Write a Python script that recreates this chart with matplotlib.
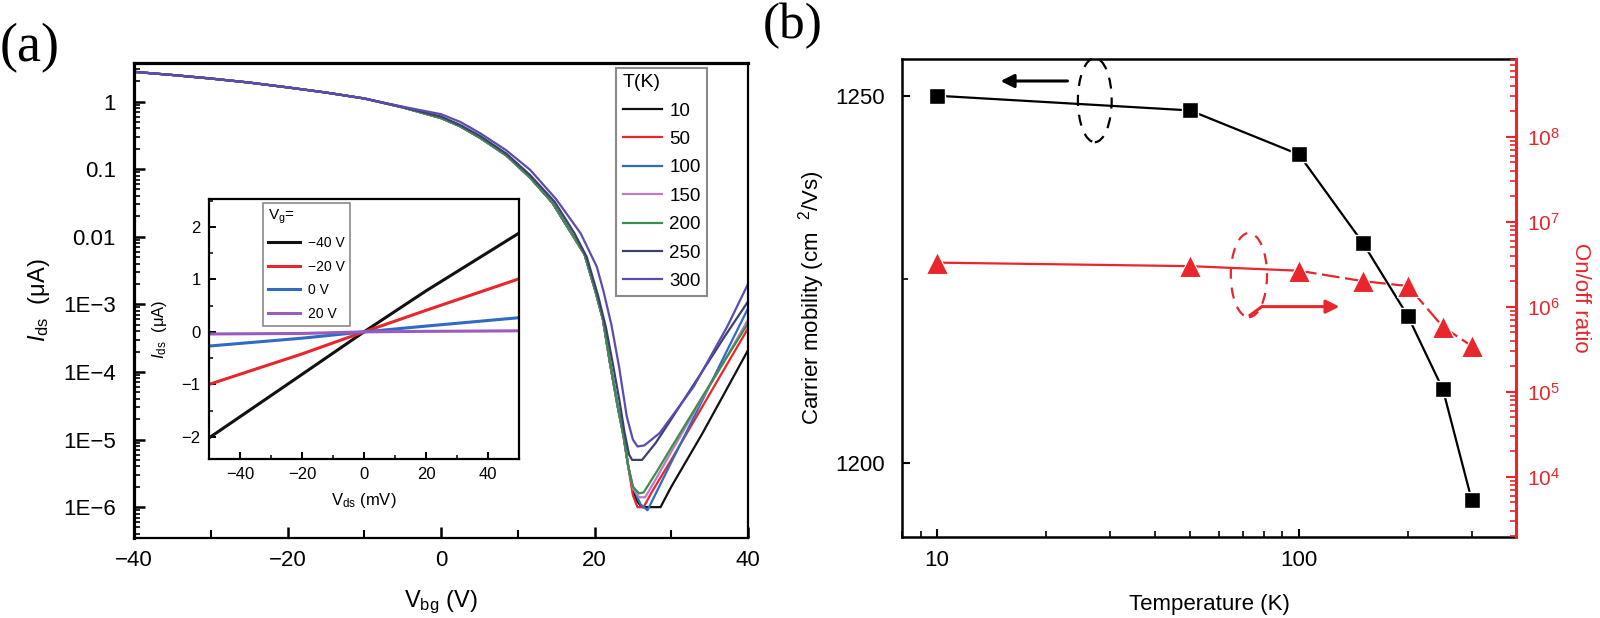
import numpy as np
import matplotlib
matplotlib.use("Agg")
import matplotlib.pyplot as plt
from matplotlib.patches import Ellipse
from matplotlib.ticker import LogLocator, MultipleLocator, NullFormatter, FixedLocator

plt.rcParams['font.family'] = ['Liberation Sans', 'DejaVu Sans']
plt.rcParams['mathtext.fontset'] = 'custom'
plt.rcParams['mathtext.rm'] = 'Liberation Sans'
plt.rcParams['mathtext.it'] = 'Liberation Sans:italic'
plt.rcParams['mathtext.bf'] = 'Liberation Sans:bold'

# ---- (a) transfer curves, Ids (uA) vs Vbg (V) ----
temps = ['10', '50', '100', '150', '200', '250', '300']
t_colors = ['#111111', '#e8262b', '#2f6bc2', '#c07ac4', '#3c8f4a', '#3c4070', '#5a4cb0']

# branch shared by all temperatures
vbg_left = [-40, -35, -30, -25, -20, -15, -10]
ids_left = [2.75, 2.47, 2.19, 1.91, 1.62, 1.36, 1.11]

# falling branch shared by 10-200 K
vbg_mid = [-5, 0, 2.5, 5.1, 8.5, 11.6, 14.5, 17.0, 18.7, 20.1, 21.1, 22.0, 23.0, 23.8, 24.4]
ids_mid = [0.82, 0.57, 0.43, 0.29, 0.16, 0.075, 0.032, 0.0112, 0.0055, 1.6e-3, 6e-4, 1.4e-4,
           3.2e-5, 1.1e-5, 4e-6]

vbg_10 = [25.0, 25.6, 26.2, 28.6, 30, 34, 37, 40]
ids_10 = [1.8e-6, 1.2e-6, 1.0e-6, 1.0e-6, 2e-6, 1.2e-5, 5e-5, 2.1e-4]
vbg_50 = [25.0, 25.6, 26.4, 27.5, 30, 34, 37, 40]
ids_50 = [1.5e-6, 1.0e-6, 1.0e-6, 1.7e-6, 5e-6, 3e-5, 1.15e-4, 4.4e-4]
vbg_100 = [25.0, 26.0, 26.9, 28, 30, 34, 37, 40]
ids_100 = [2.0e-6, 1.1e-6, 9e-7, 1.6e-6, 4.6e-6, 3.7e-5, 1.8e-4, 8.7e-4]
vbg_150 = [25.0, 25.8, 26.6, 28, 30, 34, 37, 40]
ids_150 = [1.9e-6, 1.4e-6, 1.4e-6, 2.6e-6, 6.6e-6, 4e-5, 1.5e-4, 5.9e-4]
vbg_200 = [25.0, 25.8, 26.4, 28, 30, 34, 37, 40]
ids_200 = [2.0e-6, 1.6e-6, 1.65e-6, 3.2e-6, 7.6e-6, 4.2e-5, 1.5e-4, 5.2e-4]

vbg_250 = [-5, 0, 2.5, 5.1, 8.5, 11.6, 14.8, 17.4, 19.0, 20.5, 21.5, 22.4, 23.3, 23.9, 24.5,
           24.9, 26.2, 28, 30, 34, 37, 40]
ids_250 = [0.83, 0.60, 0.45, 0.31, 0.17, 0.082, 0.033, 0.0112, 5e-3, 1.3e-3, 4.5e-4, 1.3e-4,
           3.5e-5, 1.3e-5, 6e-6, 5e-6, 5e-6, 9e-6, 2.0e-5, 1.0e-4, 3.4e-4, 1.1e-3]
vbg_300 = [-5, 0, 2.5, 5.1, 8.5, 11.6, 15.0, 18.2, 20.3, 21.15, 22.2, 23.2, 24.2, 25.0, 25.6,
           26.5, 28.5, 32.9, 37.3, 40]
ids_300 = [0.84, 0.65, 0.50, 0.34, 0.19, 0.098, 0.036, 0.0112, 3.6e-3, 1.6e-3, 5e-4, 1.2e-4,
           2.2e-5, 1.0e-5, 7.9e-6, 8.2e-6, 1.25e-5, 6e-5, 4.7e-4, 2.0e-3]

ytick_vals = [1e-6, 1e-5, 1e-4, 1e-3, 0.01, 0.1, 1]
ytick_text = ['1E\u22126', '1E\u22125', '1E\u22124', '1E\u22123', '0.01', '0.1', '1']

# ---- inset: output curves ----
vds = [-50, -20, 0, 20, 50]
vg_labels = ['\u221240 V', '\u221220 V', '0 V', '20 V']
vg_colors = ['#111111', '#e8262b', '#2f6bc2', '#9b5cc0']
ids_m40 = [-2.02, -0.81, 0.0, 0.78, 1.88]
ids_m20 = [-1.0, -0.42, 0.0, 0.41, 1.01]
ids_0 = [-0.27, -0.12, 0.0, 0.11, 0.27]
ids_p20 = [-0.04, -0.03, 0.0, 0.01, 0.02]

# ---- (b) mobility and on/off ratio ----
temp_k = [10, 50, 100, 150, 200, 250, 300]
mobility = [1250.0, 1248.0, 1242.0, 1230.0, 1220.0, 1210.0, 1195.0]
onoff = [3.3e6, 3.0e6, 2.65e6, 2.0e6, 1.75e6, 5.8e5, 3.45e5]

red = '#e8262b'

fig = plt.figure(figsize=(16, 6.18), dpi=100)

# ================= panel (a) =================
axa = fig.add_axes([0.08375, 0.1295, 0.38375, 0.7686])
curves = [
    (vbg_left + vbg_mid + vbg_10, ids_left + ids_mid + ids_10),
    (vbg_left + vbg_mid + vbg_50, ids_left + ids_mid + ids_50),
    (vbg_left + vbg_mid + vbg_100, ids_left + ids_mid + ids_100),
    (vbg_left + vbg_mid + vbg_150, ids_left + ids_mid + ids_150),
    (vbg_left + vbg_mid + vbg_200, ids_left + ids_mid + ids_200),
    (vbg_left + vbg_250, ids_left + ids_250),
    (vbg_left + vbg_300, ids_left + ids_300),
]
handles = []
for (v, i), lab, c in zip(curves, temps, t_colors):
    ln, = axa.plot(v, i, color=c, lw=1.6, label=lab)
    handles.append(ln)

axa.set_yscale('log')
axa.set_xlim(-40, 40)
axa.set_ylim(3.5e-7, 3.72)
axa.set_yticks(ytick_vals)
axa.set_yticklabels(ytick_text)
axa.yaxis.set_minor_locator(LogLocator(base=10, subs=np.arange(2, 10), numticks=20))
axa.yaxis.set_minor_formatter(NullFormatter())
axa.set_xticks([-40, -20, 0, 20, 40])
axa.xaxis.set_minor_locator(MultipleLocator(10))
axa.tick_params(which='both', direction='in', top=False, right=False, labelsize=16)
axa.tick_params(axis='y', which='major', length=8, width=1.8, pad=13)
axa.tick_params(axis='y', which='minor', length=4, width=1.2)
axa.tick_params(axis='x', which='major', length=8, width=1.8, pad=9)
axa.tick_params(axis='x', which='minor', length=6, width=1.5)
for s in ['left', 'top']:
    axa.spines[s].set_linewidth(2.3)
for s in ['bottom', 'right']:
    axa.spines[s].set_linewidth(1.6)
axa.set_xlabel(r'V$_{\rm bg}$ (V)', fontsize=17, labelpad=12)
axa.set_ylabel(r'$\mathit{I}_{\rm ds}$  (μA)', fontsize=17, labelpad=8)

leg = axa.legend(handles=handles, title='T(K)', loc='upper left', bbox_to_anchor=(0.785, 0.99),
                 borderaxespad=0, fontsize=13.5, title_fontsize=14, handlelength=2.1,
                 labelspacing=0.6, handletextpad=0.4, borderpad=0.35, fancybox=False,
                 framealpha=1, edgecolor='#8a8a8a', alignment='left')
leg.get_frame().set_linewidth(1.5)

# ================= inset =================
axi = fig.add_axes([0.1306, 0.2573, 0.19375, 0.4207])
for y, lab, c in zip([ids_m40, ids_m20, ids_0, ids_p20], vg_labels, vg_colors):
    axi.plot(vds, y, color=c, lw=2.2, label=lab)
axi.set_xlim(-50, 50)
axi.set_ylim(-2.42, 2.53)
axi.set_xticks([-40, -20, 0, 20, 40])
axi.set_yticks([-2, -1, 0, 1, 2])
axi.xaxis.set_minor_locator(MultipleLocator(10))
axi.yaxis.set_minor_locator(MultipleLocator(0.5))
axi.tick_params(which='both', direction='in', top=False, right=False, labelsize=12)
axi.tick_params(which='major', length=5, width=1.4)
axi.tick_params(which='minor', length=3, width=1.1)
axi.tick_params(axis='y', pad=6)
axi.tick_params(axis='x', pad=6)
for s in axi.spines.values():
    s.set_linewidth(1.6)
axi.set_xlabel(r'V$_{\rm ds}$ (mV)', fontsize=12, labelpad=6)
axi.set_ylabel(r'$\mathit{I}_{\rm ds}$  (μA)', fontsize=12, labelpad=9)
legi = axi.legend(title=r'V$_{\rm g}$=', loc='upper left', bbox_to_anchor=(0.174, 0.985),
                  borderaxespad=0, fontsize=10, title_fontsize=11, handlelength=2.3,
                  labelspacing=0.7, handletextpad=0.6, borderpad=0.35, fancybox=False,
                  framealpha=1, edgecolor='#8a8a8a', alignment='left')
legi.get_frame().set_linewidth(1.2)

# ================= panel (b) =================
axb = fig.add_axes([0.56375, 0.131, 0.38375, 0.7735])
axb.plot(temp_k, mobility, color='k', lw=1.6, marker='s', ms=12, mfc='k', mec='white', mew=1.0)
axb.set_xscale('log')
axb.set_xlim(8.0, 398)
axb.set_ylim(1189.9, 1255.0)
axb.set_yticks([1200, 1250])
axb.yaxis.set_minor_locator(FixedLocator([1225]))
axb.xaxis.set_minor_locator(LogLocator(base=10, subs=np.arange(2, 10), numticks=20))
axb.xaxis.set_minor_formatter(NullFormatter())
axb.set_xticks([10, 100])
axb.set_xticklabels(['10', '100'])
axb.tick_params(which='both', direction='in', top=False, right=False, labelsize=16)
axb.tick_params(which='major', length=6, width=1.5)
axb.tick_params(which='minor', length=4, width=1.2)
axb.tick_params(axis='y', pad=12)
axb.tick_params(axis='x', pad=9)
for s in ['left', 'top', 'bottom']:
    axb.spines[s].set_linewidth(1.8)
axb.spines['right'].set_visible(False)
axb.set_xlabel('Temperature (K)', fontsize=16, labelpad=17)
axb.set_ylabel('Carrier mobility (cm  $^{2}$/Vs)', fontsize=16, labelpad=6)

ax2 = axb.twinx()
ax2.set_position([0.56375, 0.131, 0.38375, 0.7735])
ax2.set_yscale('log')
ax2.set_ylim(1950, 8.2e8)
ax2.plot(temp_k[:3], onoff[:3], color=red, lw=1.6)
ax2.plot(temp_k[2:], onoff[2:], color=red, lw=1.6, ls=(0, (8, 2.5)))
ax2.plot(temp_k, onoff, ls='none', marker='^', ms=15.5, color=red, mec='white', mew=0.8)
ax2.yaxis.set_minor_locator(LogLocator(base=10, subs=np.arange(2, 10), numticks=20))
ax2.yaxis.set_minor_formatter(NullFormatter())
ax2.tick_params(which='both', direction='in', colors=red, labelsize=15, pad=8)
ax2.tick_params(which='major', length=7, width=1.5)
ax2.tick_params(which='minor', length=4, width=1.2)
for s in ['left', 'top', 'bottom']:
    ax2.spines[s].set_visible(False)
ax2.spines['right'].set_color(red)
ax2.spines['right'].set_linewidth(2.2)
ax2.set_ylabel('On/off ratio', color=red, fontsize=16, rotation=270, labelpad=22)

# dashed ellipses and arrows marking the axis of each series
axb.add_patch(Ellipse((0.314, 0.914), 0.055, 0.176, transform=axb.transAxes, fill=False,
                      ec='k', lw=1.6, ls=(0, (5, 4)), clip_on=False))
axb.annotate('', xy=(0.156, 0.954), xytext=(0.274, 0.954), xycoords='axes fraction',
             arrowprops=dict(arrowstyle='-|>', color='k', lw=2.2, mutation_scale=20))
ax2.add_patch(Ellipse((0.565, 0.548), 0.059, 0.176, transform=ax2.transAxes, fill=False,
                      ec=red, lw=1.6, ls=(0, (5, 4)), clip_on=False))
ax2.plot([0.567, 0.586], [0.464, 0.482], transform=ax2.transAxes, color=red, lw=2.2)
ax2.annotate('', xy=(0.717, 0.482), xytext=(0.584, 0.482), xycoords='axes fraction',
             arrowprops=dict(arrowstyle='-|>', color=red, lw=2.2, mutation_scale=20))

fig.text(0.0, 0.901, '(a)', family=['Liberation Serif', 'DejaVu Serif'], fontsize=39, va='baseline')
fig.text(0.477, 0.9385, '(b)', family=['Liberation Serif', 'DejaVu Serif'], fontsize=37, va='baseline')

fig.savefig('out.png', dpi=100)
